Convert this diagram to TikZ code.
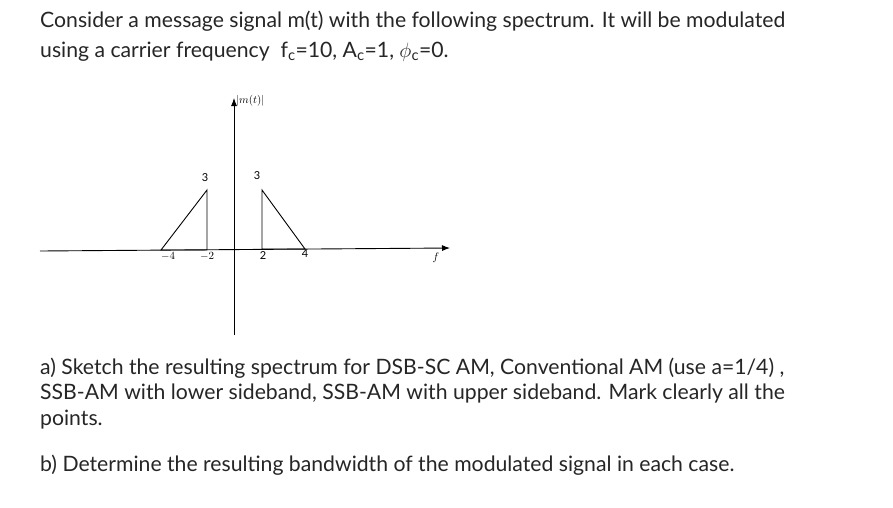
\documentclass[tikz,border=0pt]{standalone}
\usepackage{fontspec}
\setmainfont{Lato}
\usetikzlibrary{arrows.meta}
\begin{document}
\begin{tikzpicture}[x=1pt,y=-1pt,
  txt/.style={anchor=base west,inner sep=0pt,font=\fontsize{21.2}{24}\selectfont,text=black!85},
  hand/.style={font=\fontsize{11}{12}\selectfont,inner sep=0pt},
  ax/.style={line width=0.9pt,-{Latex[length=8pt,width=6pt]}},
  ln/.style={line width=0.9pt}]
\useasboundingbox[fill=white] (0,0) rectangle (893,507);
\node[txt] (t1) at (40,27) {Consider a message signal m(t) with the following spectrum. It will be modulated};
\node[txt] (t2) at (40,57) {using a carrier frequency\ \ f\textsubscript{c}=10, A\textsubscript{c}=1, $\phi$\textsubscript{c}=0.};
\node[txt] (t3) at (40,374) {a) Sketch the resulting spectrum for DSB-SC AM, Conventional AM (use a=1/4) ,};
\node[txt] (t4) at (40,399) {SSB-AM with lower sideband, SSB-AM with upper sideband. Mark clearly all the};
\node[txt] (t5) at (40,425) {points.};
\node[txt] (t6) at (40,471) {b) Determine the resulting bandwidth of the modulated signal in each case.};
% axes
\coordinate (xl) at (40,251);
\coordinate (xr) at (450,248);
\coordinate (yb) at (234,335);
\coordinate (yt) at (234,98);
\draw[ax] (xl) -- (xr);
\draw[ax] (yb) -- (yt);
% triangles
\coordinate (a1) at (161,250); \coordinate (a2) at (207,250); \coordinate (a3) at (207,190);
\coordinate (b1) at (262,249); \coordinate (b2) at (305,249); \coordinate (b3) at (262,190);
\draw[ln] (a1) -- (a3) -- (a2) -- cycle;
\draw[ln] (b3) -- (b1) -- (b2) -- cycle;
\node[hand] (l3a) at (205,178) {3};
\node[hand] (l3b) at (257,176) {3};
\node[hand] (m4) at (168,256) {$-4$};
\node[hand] (m2) at (207,256) {$-2$};
\node[hand] (p2) at (263,256) {2};
\node[hand] (p4) at (305,254) {4};
\node[hand] (f) at (436,258) {$f$};
\node[hand,anchor=west] (M) at (236,101) {$|m(t)|$};
\end{tikzpicture}
\end{document}
